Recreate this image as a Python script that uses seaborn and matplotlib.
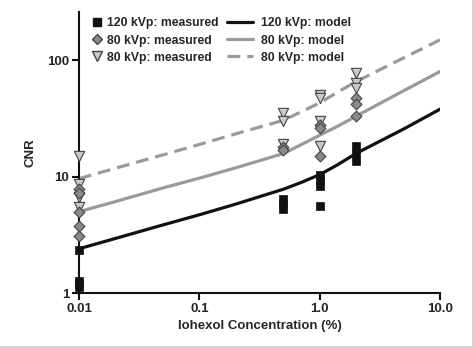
import matplotlib
matplotlib.use("Agg")
import matplotlib.pyplot as plt
import seaborn as sns
import pandas as pd
from matplotlib.lines import Line2D

# ---- measured data ----
sq_conc = [0.01, 0.01, 0.01, 0.01, 0.5, 0.5, 0.5, 1, 1, 1, 1, 2, 2, 2]
sq_cnr = [2.35, 1.28, 1.2, 1.12, 6.4, 5.8, 5.3, 10.3, 9.3, 8.3, 5.6, 18.5, 16.0, 13.5]

dia_conc = [0.01, 0.01, 0.01, 0.01, 0.01, 0.5, 0.5, 1, 1, 1, 2, 2, 2]
dia_cnr = [7.9, 7.3, 5.0, 3.8, 3.1, 18.0, 16.8, 28.0, 26.0, 15.0, 47.0, 42.0, 33.0]

tri_conc = [0.01, 0.01, 0.01, 0.01, 0.5, 0.5, 0.5, 1, 1, 1, 1, 2, 2, 2]
tri_cnr = [14.9, 8.7, 6.7, 5.5, 35.0, 30.0, 19.0, 50.0, 47.0, 30.0, 18.5, 77.0, 64.0, 58.0]

# ---- model curves ----
model_conc = [0.01, 0.02, 0.05, 0.1, 0.2, 0.5, 0.7, 1, 1.4, 2, 5, 10]
model_120 = [2.4, 2.94, 3.85, 4.7, 5.8, 7.8, 8.9, 10.4, 12.6, 15.8, 25.7, 38.0]
model_80a = [5.0, 6.1, 8.0, 9.7, 11.9, 15.8, 18.8, 22.7, 27.0, 33.0, 54.8, 80.0]
model_80b = [9.6, 11.8, 15.4, 18.9, 23.3, 30.5, 36.0, 43.0, 53.0, 65.5, 105.0, 150.0]

x_ticks = [0.01, 0.1, 1, 10]
x_ticklabels = ["0.01", "0.1", "1.0", "10.0"]
y_ticks = [1, 10, 100]
y_ticklabels = ["1", "10", "100"]

sns.set_style("ticks")
plt.rcParams["font.family"] = ["Liberation Sans", "DejaVu Sans"]

fig = plt.figure(figsize=(4.74, 3.48), dpi=100)
ax = fig.add_axes([79 / 474, 55 / 348, 361 / 474, 281 / 348])

df_m = pd.DataFrame({"conc": model_conc, "m120": model_120, "m80a": model_80a, "m80b": model_80b})

BLACK = "#111111"
GREY = "#9a9a9a"
lw = 2.3
sns.lineplot(data=df_m, x="conc", y="m120", ax=ax, color=BLACK, lw=lw, estimator=None, sort=False)
sns.lineplot(data=df_m, x="conc", y="m80a", ax=ax, color=GREY, lw=lw, estimator=None, sort=False)
sns.lineplot(data=df_m, x="conc", y="m80b", ax=ax, color=GREY, lw=lw, estimator=None, sort=False)
ax.lines[-1].set_dashes([4, 2.2])

df_sq = pd.DataFrame({"conc": sq_conc, "cnr": sq_cnr})
df_dia = pd.DataFrame({"conc": dia_conc, "cnr": dia_cnr})
df_tri = pd.DataFrame({"conc": tri_conc, "cnr": tri_cnr})

sns.scatterplot(data=df_tri, x="conc", y="cnr", ax=ax, marker="v", s=55,
                color="#c9c9c9", edgecolor="#444444", linewidth=0.8, zorder=5, clip_on=False)
sns.scatterplot(data=df_dia, x="conc", y="cnr", ax=ax, marker="D", s=30,
                color="#8a8a8a", edgecolor="#444444", linewidth=0.8, zorder=6, clip_on=False)
sns.scatterplot(data=df_sq, x="conc", y="cnr", ax=ax, marker="s", s=34,
                color=BLACK, edgecolor=BLACK, linewidth=0.5, zorder=7, clip_on=False)

ax.set_xscale("log")
ax.set_yscale("log")
ax.set_xlim(0.01, 10)
ax.set_ylim(1, 260)
ax.set_xticks(x_ticks)
ax.set_xticklabels(x_ticklabels)
ax.set_yticks(y_ticks)
ax.set_yticklabels(y_ticklabels)
ax.minorticks_off()

for side in ["top", "right"]:
    ax.spines[side].set_visible(False)
for side in ["left", "bottom"]:
    ax.spines[side].set_linewidth(1.5)
    ax.spines[side].set_color(BLACK)
ax.tick_params(axis="both", length=5, width=1.5, color=BLACK, labelsize=9.5, pad=2)
for lab in ax.get_xticklabels() + ax.get_yticklabels():
    lab.set_fontweight("bold")

ax.set_xlabel("Iohexol Concentration (%)", fontsize=9.5, fontweight="bold", labelpad=4)
ax.set_ylabel("CNR", fontsize=9.5, fontweight="bold", labelpad=8)

LFS = 8.8
h1 = [Line2D([], [], marker="s", ls="none", color=BLACK, markersize=6),
      Line2D([], [], marker="D", ls="none", markerfacecolor="#8a8a8a", markeredgecolor="#444444", markersize=5.5),
      Line2D([], [], marker="v", ls="none", markerfacecolor="#c9c9c9", markeredgecolor="#444444", markersize=7.5)]
l1 = ["120 kVp: measured", "80 kVp: measured", "80 kVp: measured"]
leg1 = ax.legend(h1, l1, loc="upper left", bbox_to_anchor=(0.006, 1.02), frameon=False,
                 handlelength=0.75, handletextpad=0.45, labelspacing=0.42,
                 prop={"size": LFS, "weight": "bold"})
ax.add_artist(leg1)
h2 = [Line2D([], [], color=BLACK, lw=lw),
      Line2D([], [], color=GREY, lw=lw),
      Line2D([], [], color=GREY, lw=lw, dashes=[4, 2.2])]
l2 = ["120 kVp: model", "80 kVp: model", "80 kVp: model"]
ax.legend(h2, l2, loc="upper left", bbox_to_anchor=(0.38, 1.02), frameon=False,
          handlelength=2.13, handletextpad=0.62, labelspacing=0.42,
          prop={"size": LFS, "weight": "bold"})

fig.add_artist(Line2D([0, 1], [0.002, 0.002], transform=fig.transFigure, color="#d0d0d0", lw=2))
fig.add_artist(Line2D([0.998, 0.998], [0, 1], transform=fig.transFigure, color="#d0d0d0", lw=2))

fig.savefig("out.png", dpi=100)
